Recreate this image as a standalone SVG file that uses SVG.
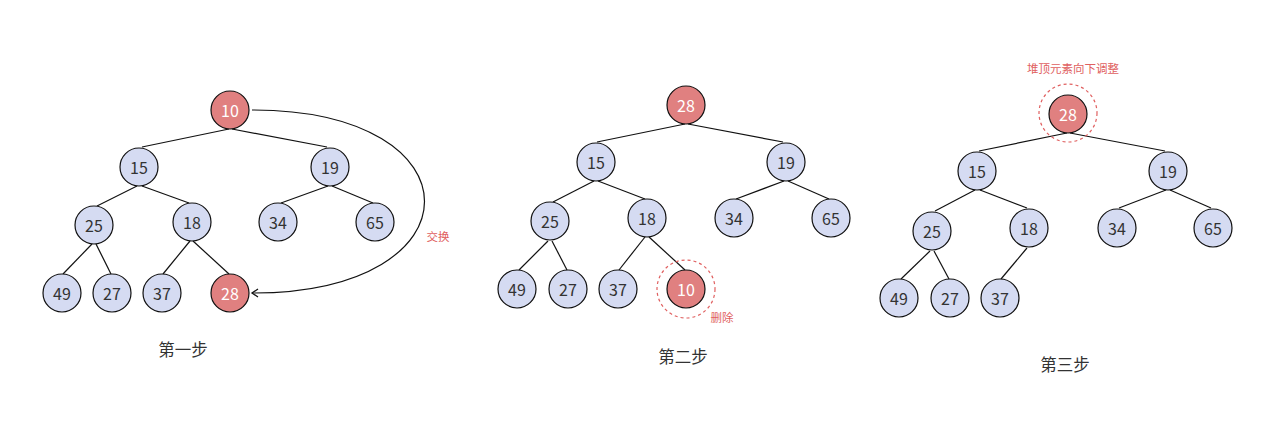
<svg xmlns="http://www.w3.org/2000/svg" width="1275" height="433" viewBox="0 0 1275 433">
<style>
.n{fill:#d5dbf2;stroke:#111;stroke-width:1.2}
.r{fill:#e08080;stroke:#111;stroke-width:1.2}
.t{font-family:"Noto Sans CJK SC","Noto Sans",sans-serif;font-size:16px;fill:#333;text-anchor:middle;dominant-baseline:central}
.tw{fill:#fff}
.e{stroke:#111;stroke-width:1.2;fill:none}
.d{fill:none;stroke:#e06060;stroke-width:1.2;stroke-dasharray:3 3}
.lab{font-family:"Noto Sans CJK SC",sans-serif;font-size:11.5px;fill:#e06060;text-anchor:middle;dominant-baseline:central}
.cap{font-family:"Noto Sans CJK SC",sans-serif;font-size:16.5px;fill:#333;text-anchor:middle;dominant-baseline:central}
</style>
<defs>
<marker id="ah" viewBox="-9 -6 11 12" refX="0" refY="0" markerWidth="11" markerHeight="12" markerUnits="userSpaceOnUse" orient="auto">
<path d="M-6,-4 L0,0 L-6,4" fill="none" stroke="#111" stroke-width="1.3"/>
</marker>
</defs>
<rect width="1275" height="433" fill="#fff"/>
<g id="connectors">
<!-- tree 1 -->
<line class="e" x1="229" y1="129" x2="142" y2="147"/>
<line class="e" x1="232" y1="129" x2="327" y2="147"/>
<line class="e" x1="137" y1="186" x2="97" y2="206"/>
<line class="e" x1="142" y1="186" x2="189" y2="203"/>
<line class="e" x1="328" y1="186" x2="281" y2="203"/>
<line class="e" x1="332" y1="186" x2="373" y2="203"/>
<line class="e" x1="92" y1="244" x2="63" y2="274"/>
<line class="e" x1="96" y1="244" x2="111" y2="274"/>
<line class="e" x1="190" y1="241" x2="163" y2="274"/>
<line class="e" x1="193" y1="241" x2="229" y2="274"/>
<path class="e" d="M252,110 C482,110 482,293 252,293" marker-end="url(#ah)"/>
<!-- tree 2 -->
<line class="e" x1="685" y1="124" x2="597" y2="142"/>
<line class="e" x1="688" y1="124" x2="783" y2="142"/>
<line class="e" x1="594" y1="181" x2="553" y2="202"/>
<line class="e" x1="598" y1="181" x2="645" y2="199"/>
<line class="e" x1="784" y1="181" x2="736" y2="199"/>
<line class="e" x1="788" y1="181" x2="829" y2="199"/>
<line class="e" x1="548" y1="241" x2="519" y2="270"/>
<line class="e" x1="552" y1="241" x2="567" y2="270"/>
<line class="e" x1="645" y1="237" x2="619" y2="270"/>
<line class="e" x1="649" y1="237" x2="685" y2="270"/>
<!-- tree 3 -->
<line class="e" x1="1067" y1="133" x2="979" y2="151"/>
<line class="e" x1="1070" y1="133" x2="1165" y2="151"/>
<line class="e" x1="975" y1="190" x2="935" y2="211"/>
<line class="e" x1="980" y1="190" x2="1027" y2="208"/>
<line class="e" x1="1166" y1="190" x2="1119" y2="208"/>
<line class="e" x1="1170" y1="190" x2="1211" y2="208"/>
<line class="e" x1="930" y1="251" x2="901" y2="279"/>
<line class="e" x1="934" y1="251" x2="949" y2="279"/>
<line class="e" x1="1027" y1="248" x2="1001" y2="279"/>
</g>
<!-- tree 1 nodes -->
<g id="t1-10"><circle class="r" cx="230" cy="110" r="19"/><text class="t tw" x="230" y="110">10</text></g>
<g id="t1-15"><circle class="n" cx="139" cy="167" r="19"/><text class="t" x="139" y="167">15</text></g>
<g id="t1-19"><circle class="n" cx="330" cy="167" r="19"/><text class="t" x="330" y="167">19</text></g>
<g id="t1-25"><circle class="n" cx="94" cy="225" r="19"/><text class="t" x="94" y="225">25</text></g>
<g id="t1-18"><circle class="n" cx="192" cy="222" r="19"/><text class="t" x="192" y="222">18</text></g>
<g id="t1-34"><circle class="n" cx="278" cy="222" r="19"/><text class="t" x="278" y="222">34</text></g>
<g id="t1-65"><circle class="n" cx="375" cy="222" r="19"/><text class="t" x="375" y="222">65</text></g>
<g id="t1-49"><circle class="n" cx="62" cy="293" r="19"/><text class="t" x="62" y="293">49</text></g>
<g id="t1-27"><circle class="n" cx="112" cy="293" r="19"/><text class="t" x="112" y="293">27</text></g>
<g id="t1-37"><circle class="n" cx="162" cy="293" r="19"/><text class="t" x="162" y="293">37</text></g>
<g id="t1-28"><circle class="r" cx="230" cy="293" r="19"/><text class="t tw" x="230" y="293">28</text></g>
<g id="lab-swap"><text class="lab" x="438" y="236">交换</text></g>
<g id="cap1"><text class="cap" x="183" y="349">第一步</text></g>
<!-- tree 2 nodes -->
<g id="t2-28"><circle class="r" cx="686" cy="105" r="19"/><text class="t tw" x="686" y="105">28</text></g>
<g id="t2-15"><circle class="n" cx="596" cy="162" r="19"/><text class="t" x="596" y="162">15</text></g>
<g id="t2-19"><circle class="n" cx="786" cy="162" r="19"/><text class="t" x="786" y="162">19</text></g>
<g id="t2-25"><circle class="n" cx="550" cy="221" r="19"/><text class="t" x="550" y="221">25</text></g>
<g id="t2-18"><circle class="n" cx="647" cy="218" r="19"/><text class="t" x="647" y="218">18</text></g>
<g id="t2-34"><circle class="n" cx="734" cy="218" r="19"/><text class="t" x="734" y="218">34</text></g>
<g id="t2-65"><circle class="n" cx="831" cy="218" r="19"/><text class="t" x="831" y="218">65</text></g>
<g id="t2-49"><circle class="n" cx="517" cy="289" r="19"/><text class="t" x="517" y="289">49</text></g>
<g id="t2-27"><circle class="n" cx="568" cy="289" r="19"/><text class="t" x="568" y="289">27</text></g>
<g id="t2-37"><circle class="n" cx="618" cy="289" r="19"/><text class="t" x="618" y="289">37</text></g>
<g id="t2-10"><circle class="r" cx="686" cy="289" r="19"/><text class="t tw" x="686" y="289">10</text><circle class="d" cx="686" cy="289" r="29"/></g>
<g id="lab-del"><text class="lab" x="722" y="317">删除</text></g>
<g id="cap2"><text class="cap" x="683" y="356">第二步</text></g>
<!-- tree 3 nodes -->
<g id="t3-28"><circle class="r" cx="1068" cy="114" r="19"/><text class="t tw" x="1068" y="114">28</text><circle class="d" cx="1068" cy="113" r="29"/></g>
<g id="t3-15"><circle class="n" cx="977" cy="171" r="19"/><text class="t" x="977" y="171">15</text></g>
<g id="t3-19"><circle class="n" cx="1168" cy="171" r="19"/><text class="t" x="1168" y="171">19</text></g>
<g id="t3-25"><circle class="n" cx="932" cy="231" r="19"/><text class="t" x="932" y="231">25</text></g>
<g id="t3-18"><circle class="n" cx="1029" cy="228" r="19"/><text class="t" x="1029" y="228">18</text></g>
<g id="t3-34"><circle class="n" cx="1117" cy="228" r="19"/><text class="t" x="1117" y="228">34</text></g>
<g id="t3-65"><circle class="n" cx="1213" cy="228" r="19"/><text class="t" x="1213" y="228">65</text></g>
<g id="t3-49"><circle class="n" cx="899" cy="298" r="19"/><text class="t" x="899" y="298">49</text></g>
<g id="t3-27"><circle class="n" cx="950" cy="298" r="19"/><text class="t" x="950" y="298">27</text></g>
<g id="t3-37"><circle class="n" cx="1000" cy="298" r="19"/><text class="t" x="1000" y="298">37</text></g>
<g id="lab-adjust"><text class="lab" x="1073" y="68">堆顶元素向下调整</text></g>
<g id="cap3"><text class="cap" x="1065" y="364">第三步</text></g>
</svg>
